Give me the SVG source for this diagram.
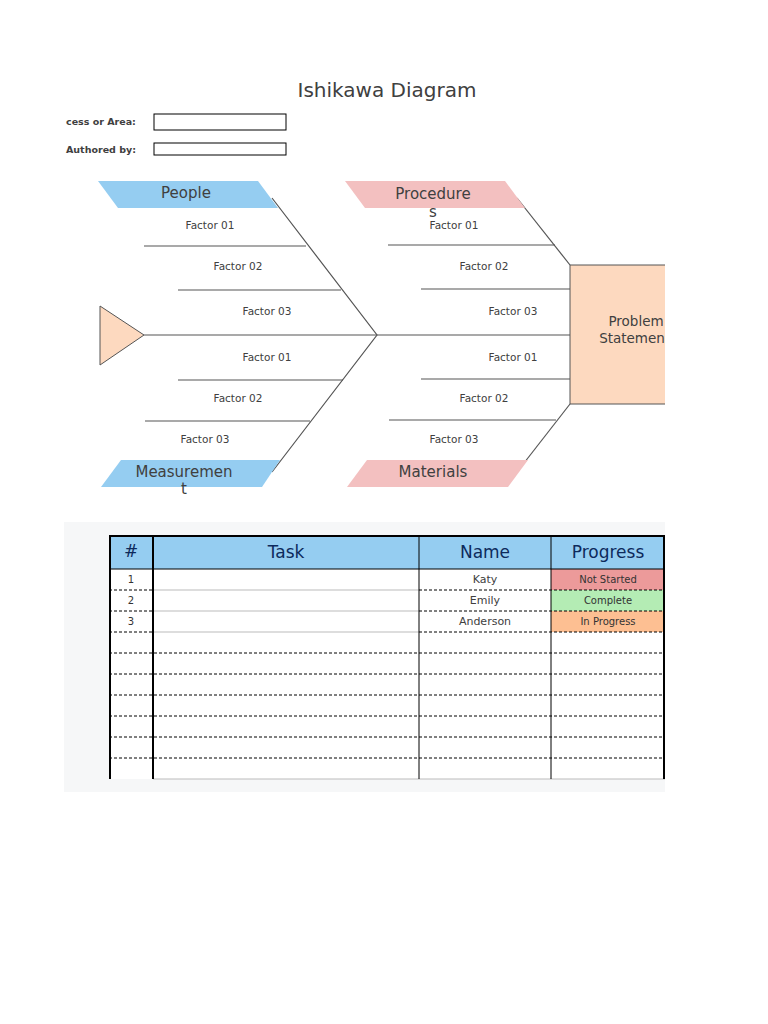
<svg xmlns="http://www.w3.org/2000/svg" width="768" height="1024" viewBox="0 0 768 1024">
<style>
text{font-family:"DejaVu Sans",sans-serif;fill:#404040}
.f{font-size:10.5px}
.cat{font-size:15px}
.ln{stroke:#555;stroke-width:1.2;fill:none}
.hd{font-size:17px;fill:#0d2a5c}
.c{font-size:11px}
.st{font-size:10px;fill:#333}
.dash{stroke:#000;stroke-width:1;stroke-dasharray:3,2}
</style>
<rect width="768" height="1024" fill="#fff"/>
<text x="387" y="97" text-anchor="middle" font-size="20">Ishikawa Diagram</text>
<text x="66" y="125" font-size="9.5" font-weight="bold" fill="#333">cess or Area:</text>
<rect x="154" y="114" width="132" height="16" fill="#fff" stroke="#000"/>
<text x="66" y="153" font-size="9.5" font-weight="bold" fill="#333">Authored by:</text>
<rect x="154" y="143" width="132" height="12" fill="#fff" stroke="#000"/>
<g id="connectors">
<line class="ln" x1="144" y1="335" x2="570" y2="335"/>
<polyline class="ln" points="272,198 377,335 272,472"/>
<polyline class="ln" points="517,198 570,265"/>
<polyline class="ln" points="570,404 517,472"/>
<line class="ln" x1="144" y1="246" x2="306" y2="246"/>
<line class="ln" x1="178" y1="290" x2="341" y2="290"/>
<line class="ln" x1="178" y1="380" x2="343" y2="380"/>
<line class="ln" x1="145" y1="421" x2="310" y2="421"/>
<line class="ln" x1="388" y1="245" x2="555" y2="245"/>
<line class="ln" x1="421" y1="289" x2="570" y2="289"/>
<line class="ln" x1="421" y1="379" x2="570" y2="379"/>
<line class="ln" x1="389" y1="420" x2="556" y2="420"/>
</g>
<g id="head"><polygon points="100,306 144,335 100,365" fill="#fdd9bf" stroke="#555"/></g>
<g id="problem"><path d="M665,265 H570 V404 H665" fill="#fdd9bf" stroke="#555"/>
<text x="636" y="326" text-anchor="middle" font-size="13.5">Problem</text>
<text x="632" y="343" text-anchor="middle" font-size="13.5">Statemen</text></g>
<g id="people"><polygon points="98,181 258,181 278,208 118,208" fill="#95cdf1"/><text x="186" y="198" text-anchor="middle" class="cat">People</text></g>
<g id="procedures"><polygon points="345,181 505,181 525,208 365,208" fill="#f3c0c0"/><text x="433" y="199" text-anchor="middle" class="cat">Procedure</text><text x="433" y="217" text-anchor="middle" class="cat">s</text></g>
<g id="measurement"><polygon points="121,460 280,460 262,487 101,487" fill="#95cdf1"/><text x="184" y="477" text-anchor="middle" class="cat">Measuremen</text><text x="184" y="494" text-anchor="middle" class="cat">t</text></g>
<g id="materials"><polygon points="367,460 528,460 508,487 347,487" fill="#f3c0c0"/><text x="433" y="477" text-anchor="middle" class="cat">Materials</text></g>
<g id="factors" class="f">
<text x="210" y="229" text-anchor="middle" class="f">Factor 01</text>
<text x="238" y="270" text-anchor="middle" class="f">Factor 02</text>
<text x="267" y="315" text-anchor="middle" class="f">Factor 03</text>
<text x="267" y="361" text-anchor="middle" class="f">Factor 01</text>
<text x="238" y="402" text-anchor="middle" class="f">Factor 02</text>
<text x="205" y="443" text-anchor="middle" class="f">Factor 03</text>
<text x="454" y="229" text-anchor="middle" class="f">Factor 01</text>
<text x="484" y="270" text-anchor="middle" class="f">Factor 02</text>
<text x="513" y="315" text-anchor="middle" class="f">Factor 03</text>
<text x="513" y="361" text-anchor="middle" class="f">Factor 01</text>
<text x="484" y="402" text-anchor="middle" class="f">Factor 02</text>
<text x="454" y="443" text-anchor="middle" class="f">Factor 03</text>
</g>
<g id="table">
<rect x="64" y="522" width="601" height="270" fill="#f6f7f8"/>
<rect x="109" y="536" width="556" height="243" fill="#fff"/>
<rect x="109" y="536" width="556" height="33" fill="#95cdf1"/>
<rect x="551" y="569" width="114" height="21" fill="#ec9a9a"/>
<rect x="551" y="590" width="114" height="21" fill="#b4ecb4"/>
<rect x="551" y="611" width="114" height="21" fill="#fdbf92"/>
<g stroke="#bbb"><line x1="153" y1="590" x2="419" y2="590"/><line x1="153" y1="611" x2="419" y2="611"/><line x1="153" y1="632" x2="419" y2="632"/><line x1="153" y1="779" x2="665" y2="779"/></g>
<g class="dash">
<line x1="109" y1="590" x2="153" y2="590"/><line x1="419" y1="590" x2="665" y2="590"/>
<line x1="109" y1="611" x2="153" y2="611"/><line x1="419" y1="611" x2="665" y2="611"/>
<line x1="109" y1="632" x2="153" y2="632"/><line x1="419" y1="632" x2="665" y2="632"/>
<line x1="109" y1="653" x2="665" y2="653"/><line x1="109" y1="674" x2="665" y2="674"/>
<line x1="109" y1="695" x2="665" y2="695"/><line x1="109" y1="716" x2="665" y2="716"/>
<line x1="109" y1="737" x2="665" y2="737"/><line x1="109" y1="758" x2="665" y2="758"/>
</g>
<line x1="109" y1="569" x2="665" y2="569" stroke="#000"/>
<line x1="109" y1="536" x2="665" y2="536" stroke="#000" stroke-width="2"/>
<line x1="110" y1="536" x2="110" y2="779" stroke="#000" stroke-width="2"/>
<line x1="153" y1="536" x2="153" y2="779" stroke="#000" stroke-width="2"/>
<line x1="419" y1="536" x2="419" y2="779" stroke="#000"/>
<line x1="551" y1="536" x2="551" y2="779" stroke="#000"/>
<line x1="664" y1="536" x2="664" y2="779" stroke="#000" stroke-width="2"/>
<text x="131" y="557" text-anchor="middle" class="hd" font-size="12">#</text>
<text x="286" y="558" text-anchor="middle" class="hd">Task</text>
<text x="485" y="558" text-anchor="middle" class="hd">Name</text>
<text x="608" y="558" text-anchor="middle" class="hd">Progress</text>
<text x="131" y="583" text-anchor="middle" class="st">1</text>
<text x="131" y="604" text-anchor="middle" class="st">2</text>
<text x="131" y="625" text-anchor="middle" class="st">3</text>
<text x="485" y="583" text-anchor="middle" class="c">Katy</text>
<text x="485" y="604" text-anchor="middle" class="c">Emily</text>
<text x="485" y="625" text-anchor="middle" class="c">Anderson</text>
<text x="608" y="583" text-anchor="middle" class="st">Not Started</text>
<text x="608" y="604" text-anchor="middle" class="st">Complete</text>
<text x="608" y="625" text-anchor="middle" class="st">In Progress</text>
</g>
</svg>
